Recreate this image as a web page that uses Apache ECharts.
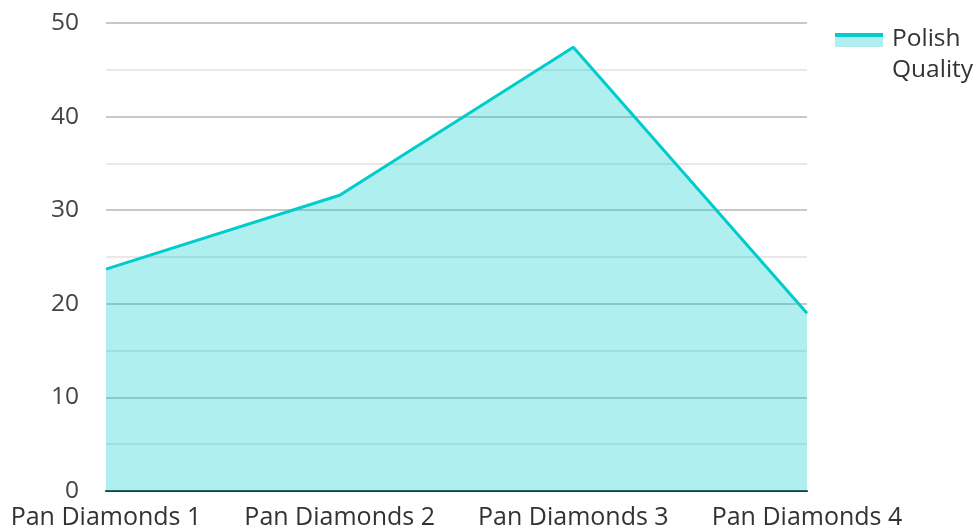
<!DOCTYPE html>
<html><head><meta charset="utf-8">
<script src="https://cdn.jsdelivr.net/npm/echarts@6/dist/echarts.min.js"></script>
<style>html,body{margin:0;padding:0;background:#fff}#c{width:977px;height:532px}</style>
</head><body><div id="c"></div>
<script>
const categories = ['Pan Diamonds 1', 'Pan Diamonds 2', 'Pan Diamonds 3', 'Pan Diamonds 4'];
const seriesName = 'Polish Quality';
const values = [23.7, 31.6, 47.4, 19.0];
const yTicks = [0, 10, 20, 30, 40, 50];

const chart = echarts.init(document.getElementById('c'), null, {renderer: 'canvas'});
chart.setOption({
  animation: false,
  textStyle: {fontFamily: 'Open Sans'},
  grid: {left: 106, right: 170, top: 23, bottom: 41},
  legend: {
    left: 830, top: 19, orient: 'vertical',
    icon: 'rect', itemWidth: 52, itemHeight: 12,
    formatter: () => 'Polish\nQuality',
    textStyle: {fontSize: 24.5, color: '#333', lineHeight: 31, fontFamily: 'Open Sans'},
    itemStyle: {color: 'rgba(0,0,0,0)'},
    lineStyle: {width: 0}
  },
  graphic: [
    {type: 'rect', silent: true, shape: {x: 835, y: 35, width: 48, height: 12}, style: {fill: '#b2eeee'}},
    {type: 'line', silent: true, shape: {x1: 835, y1: 35, x2: 883, y2: 35}, style: {stroke: '#00cccc', lineWidth: 4}}
  ],
  xAxis: {
    type: 'category', data: categories, boundaryGap: false,
    axisLine: {lineStyle: {color: '#333', width: 2}},
    axisTick: {show: false},
    axisLabel: {fontSize: 25, color: '#333', margin: 14, interval: 0, fontFamily: 'Open Sans'},
    splitLine: {show: false}
  },
  yAxis: {
    type: 'value', min: yTicks[0], max: yTicks[yTicks.length - 1], interval: 10,
    axisLine: {show: false}, axisTick: {show: false},
    axisLabel: {fontSize: 24.5, color: '#444', margin: 27, fontFamily: 'Open Sans'},
    splitLine: {lineStyle: {color: '#c8c8c8', width: 2}},
    minorTick: {show: false, splitNumber: 2},
    minorSplitLine: {show: true, lineStyle: {color: '#e8e8e8', width: 2}}
  },
  series: [{
    name: seriesName, type: 'line', data: values,
    symbol: 'none',
    lineStyle: {color: '#00cccc', width: 3},
    itemStyle: {color: '#00cccc'},
    areaStyle: {color: 'rgba(0,204,204,0.31)', opacity: 1}
  }]
});
</script></body></html>
